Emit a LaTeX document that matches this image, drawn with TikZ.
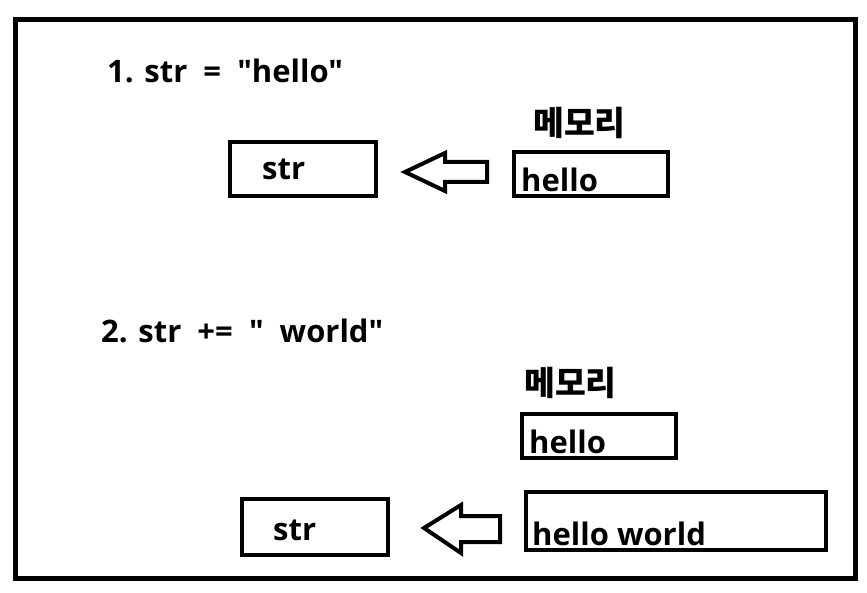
\documentclass[tikz,border=0pt]{standalone}
\usepackage{fontspec}
\setmainfont{Open Sans}[Ligatures=TeXOff]
\newfontfamily\kr{Noto Sans CJK KR}
\begin{document}
\begin{tikzpicture}[x=1pt,y=-1pt,
  box/.style={draw=black,line width=4pt,rectangle,inner sep=0pt,outer sep=0pt},
  txt/.style={anchor=base west,inner sep=0pt,font=\fontsize{31}{34}\selectfont\bfseries},
  krtxt/.style={anchor=base west,inner sep=0pt,font=\fontsize{33.5}{36}\selectfont\kr\bfseries},
  blockarrow/.style={draw=black,line width=4pt,line join=miter,fill=white}]
\useasboundingbox (0,0) rectangle (867,593);
% frame
\node[draw=black,line width=5pt,minimum width=840pt,minimum height=558pt,inner sep=0pt,outer sep=0pt] (frame) at (435.2,299) {};
% titles
\node[txt] (t1) at (107,83) {1. str\ \ =\ \ "hello"};
\node[txt] (t2) at (101,343) {2. str\ \ +=\ \ "\ \ world"};
% section 1
\node[box,minimum width=146pt,minimum height=54pt] (str1) at (303,169) {};
\node[box,minimum width=154pt,minimum height=44pt] (mem1) at (591,174) {};
\node[txt] (str1t) at (262,180) {str};
\node[txt] (mem1t) at (521,192) {hello};
\node[krtxt] (mem1l) at (533,136) {메모리};
\draw[blockarrow] (405,172) -- (445,153) -- (445,162) -- (487,162) -- (487,182) -- (445,182) -- (445,191) -- cycle;
% section 2
\node[box,minimum width=146pt,minimum height=56pt] (str2) at (315,527) {};
\node[box,minimum width=154pt,minimum height=44pt] (mem2a) at (599,436) {};
\node[box,minimum width=300pt,minimum height=58pt] (mem2b) at (676,521) {};
\node[txt] (str2t) at (273,540) {str};
\node[txt] (mem2at) at (529,453) {hello};
\node[txt] (mem2bt) at (532,545) {hello world};
\node[krtxt] (mem2l) at (524,395) {메모리};
\draw[blockarrow] (424,528) -- (461,505) -- (461,516) -- (500,516) -- (500,542) -- (461,542) -- (461,553) -- cycle;
\end{tikzpicture}
\end{document}
